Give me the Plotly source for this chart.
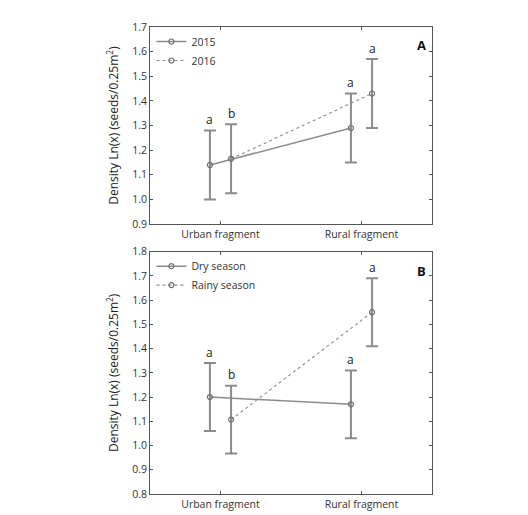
import plotly.graph_objects as go
from plotly.subplots import make_subplots

# categories and offsets
sites = ["Urban fragment", "Rural fragment"]
dodge = 0.075

# panel A: years
years = ["2015", "2016"]
mean_2015 = [1.14, 1.29]
err_2015 = [0.14, 0.14]
mean_2016 = [1.165, 1.43]
err_2016 = [0.14, 0.14]
letters_a = [["a", "a"], ["b", "a"]]

# panel B: seasons
seasons = ["Dry season", "Rainy season"]
mean_dry = [1.20, 1.17]
err_dry = [0.14, 0.14]
mean_rainy = [1.107, 1.55]
err_rainy = [0.14, 0.14]
letters_b = [["a", "a"], ["b", "a"]]

GREY = "#8c8c8c"
FONT = "Open Sans"

fig = make_subplots(rows=2, cols=1, vertical_spacing=0.06, row_heights=[0.44, 0.56])


def add_series(name, means, errs, dash, offset, row, legend):
    xs = [i + offset for i in range(len(sites))]
    fig.add_trace(
        go.Scatter(
            x=xs,
            y=means,
            name=name,
            mode="lines+markers",
            line=dict(color=GREY, width=1.5 if dash == "solid" else 1.1, dash=dash),
            marker=dict(symbol="circle-open", size=5, color="#6f6f6f", line=dict(width=1.2)),
            error_y=dict(type="data", array=errs, color=GREY, thickness=2, width=6),
            legend=legend,
        ),
        row=row,
        col=1,
    )


add_series(years[0], mean_2015, err_2015, "solid", -dodge, 1, "legend")
add_series(years[1], mean_2016, err_2016, "dot", dodge, 1, "legend")
add_series(seasons[0], mean_dry, err_dry, "solid", -dodge, 2, "legend2")
add_series(seasons[1], mean_rainy, err_rainy, "dot", dodge, 2, "legend2")

# significance letters
for row, groups, lets in [
    (1, [(mean_2015, err_2015), (mean_2016, err_2016)], letters_a),
    (2, [(mean_dry, err_dry), (mean_rainy, err_rainy)], letters_b),
]:
    for g, (means, errs) in enumerate(groups):
        off = -dodge if g == 0 else dodge
        for i in range(len(sites)):
            fig.add_annotation(
                x=i + off, y=means[i] + errs[i], text=lets[g][i],
                showarrow=False, yshift=11, font=dict(size=12, color="#222"),
                xref="x" if row == 1 else "x2", yref="y" if row == 1 else "y2",
            )

# panel labels
fig.add_annotation(x=0.985, y=0.965, xref="x domain", yref="y domain", text="<b>A</b>",
                   showarrow=False, xanchor="right", yanchor="top", font=dict(size=13, color="#111"))
fig.add_annotation(x=0.985, y=0.965, xref="x2 domain", yref="y2 domain", text="<b>B</b>",
                   showarrow=False, xanchor="right", yanchor="top", font=dict(size=13, color="#111"))

axis_style = dict(
    showline=True, mirror="ticks", linecolor="#555555", linewidth=1,
    ticks="inside", ticklen=3, tickcolor="#555555", showgrid=False, zeroline=False,
    tickfont=dict(size=10.5, color="#333"),
)
for r in (1, 2):
    fig.update_xaxes(range=[-0.5, 1.5], tickvals=[0, 1], ticktext=sites, row=r, col=1, **axis_style)

fig.update_yaxes(range=[0.9, 1.7], dtick=0.1, tickformat=".1f", row=1, col=1, **axis_style)
fig.update_yaxes(range=[0.8, 1.8], dtick=0.1, tickformat=".1f", row=2, col=1, **axis_style)
ytitle = "Density Ln(x) (seeds/0.25m<sup>2</sup>)"
fig.update_yaxes(title=dict(text=ytitle, font=dict(size=12, color="#222"), standoff=10), row=1, col=1)
fig.update_yaxes(title=dict(text=ytitle, font=dict(size=12, color="#222"), standoff=10), row=2, col=1)

fig.update_layout(
    width=528,
    height=515,
    margin=dict(l=142, r=104, t=12, b=27),
    paper_bgcolor="white",
    plot_bgcolor="white",
    font=dict(family=FONT, color="#333"),
    yaxis=dict(domain=[0.578, 1.0]),
    yaxis2=dict(domain=[0.0, 0.519]),
    legend=dict(x=0.005, y=1.0, xanchor="left", yanchor="top",
                bgcolor="rgba(0,0,0,0)", font=dict(size=10.5), tracegroupgap=0,
                itemwidth=30),
    legend2=dict(x=0.005, y=0.519, xanchor="left", yanchor="top",
                 bgcolor="rgba(0,0,0,0)", font=dict(size=10.5), itemwidth=30),
)

fig.write_html("out.html")
